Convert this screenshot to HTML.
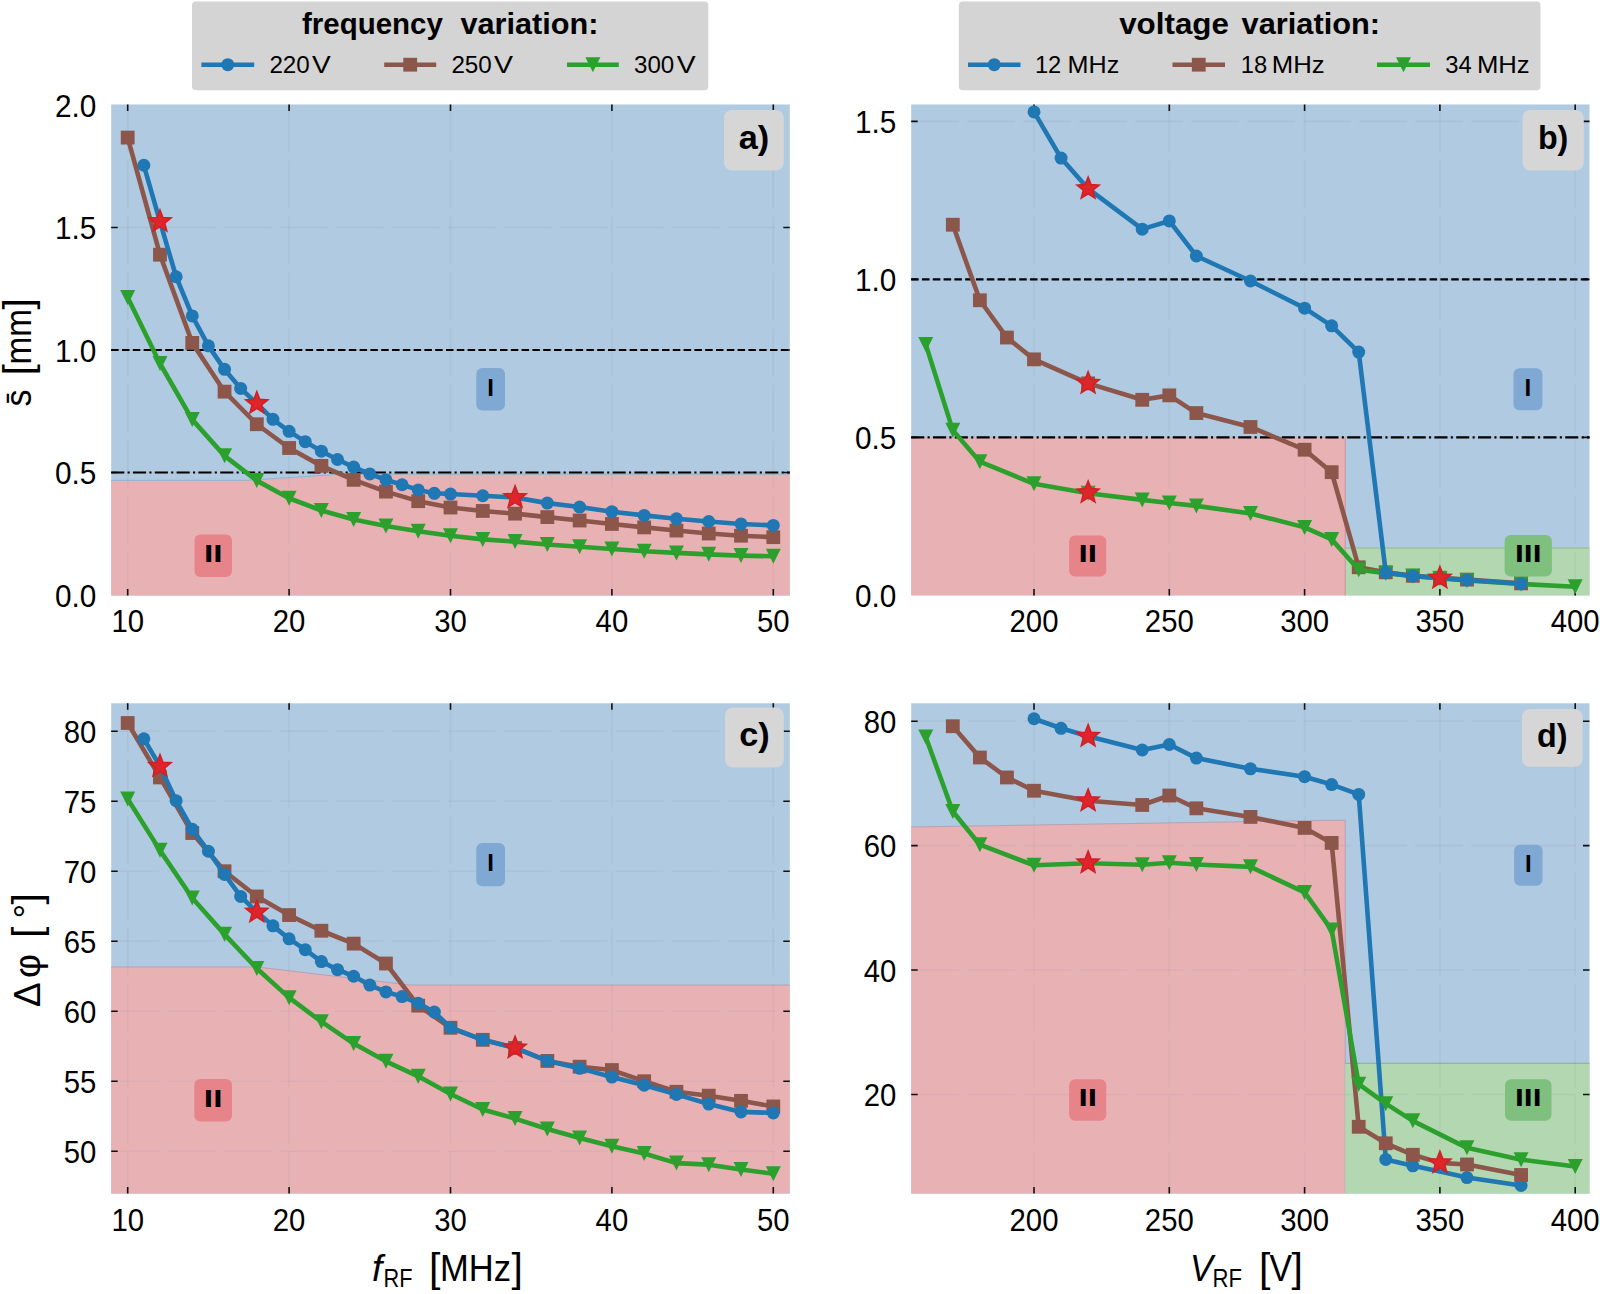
<!DOCTYPE html>
<html lang="en"><head><meta charset="utf-8"><title>Figure</title>
<style>html,body{margin:0;padding:0;background:#fff}svg{display:block}</style></head>
<body>
<svg width="1600" height="1294" viewBox="0 0 1600 1294" font-family='"Liberation Sans", sans-serif' fill="#000">
<rect width="1600" height="1294" fill="#fff"/>
<rect x="111.2" y="104.5" width="678.6" height="491.1" fill="#afcae1"/>
<polygon points="111.2,595.6 111.2,480.34 247.14,480.34 340.75,474.22 789.8,474.22 789.8,595.6" fill="#e8b2b5"/>
<polyline points="111.2,480.34 247.14,480.34 340.75,474.22 789.8,474.22" fill="none" stroke="#8fb3d3" stroke-width="1"/>
<g stroke="#808890" stroke-opacity="0.11" stroke-width="1.6" stroke-dasharray="48 8" fill="none"><path d="M127.7 104.5V595.6"/><path d="M289.1 104.5V595.6"/><path d="M450.5 104.5V595.6"/><path d="M611.9 104.5V595.6"/><path d="M773.3 104.5V595.6"/><path d="M111.2 472.5H789.8"/><path d="M111.2 350H789.8"/><path d="M111.2 227.5H789.8"/></g>
<g stroke="#111" stroke-width="1.6" fill="none"><path d="M127.7 595.6v-6.5M127.7 104.5v6.5"/><path d="M289.1 595.6v-6.5M289.1 104.5v6.5"/><path d="M450.5 595.6v-6.5M450.5 104.5v6.5"/><path d="M611.9 595.6v-6.5M611.9 104.5v6.5"/><path d="M773.3 595.6v-6.5M773.3 104.5v6.5"/><path d="M111.2 472.5h6.5M789.8 472.5h-6.5"/><path d="M111.2 350h6.5M789.8 350h-6.5"/><path d="M111.2 227.5h6.5M789.8 227.5h-6.5"/></g>
<path d="M111.2 350H789.8" stroke="#000" stroke-width="2.1" stroke-dasharray="7.5 3.3" fill="none"/>
<path d="M111.2 472.5H789.8" stroke="#000" stroke-width="2.1" stroke-dasharray="13.1 3.3 2.1 3.3" fill="none"/>
<polyline points="127.7,137.58 159.98,254.69 192.26,342.89 224.54,391.65 256.82,424.24 289.1,448 321.38,465.88 353.66,479.85 385.94,491.61 418.22,501.16 450.5,507.54 482.78,510.96 515.06,513.66 547.34,517.09 579.62,520.52 611.9,523.95 644.18,527.38 676.46,530.57 708.74,533.5 741.02,535.71 773.3,537.18" fill="none" stroke="#8c564b" stroke-width="4.6" stroke-linejoin="round" stroke-linecap="butt"/>
<g fill="#8c564b"><rect x="120.8" y="130.68" width="13.8" height="13.8"/><rect x="153.08" y="247.79" width="13.8" height="13.8"/><rect x="185.36" y="336" width="13.8" height="13.8"/><rect x="217.64" y="384.75" width="13.8" height="13.8"/><rect x="249.92" y="417.34" width="13.8" height="13.8"/><rect x="282.2" y="441.1" width="13.8" height="13.8"/><rect x="314.48" y="458.99" width="13.8" height="13.8"/><rect x="346.76" y="472.95" width="13.8" height="13.8"/><rect x="379.04" y="484.71" width="13.8" height="13.8"/><rect x="411.32" y="494.26" width="13.8" height="13.8"/><rect x="443.6" y="500.64" width="13.8" height="13.8"/><rect x="475.88" y="504.06" width="13.8" height="13.8"/><rect x="508.16" y="506.76" width="13.8" height="13.8"/><rect x="540.44" y="510.19" width="13.8" height="13.8"/><rect x="572.72" y="513.62" width="13.8" height="13.8"/><rect x="605" y="517.05" width="13.8" height="13.8"/><rect x="637.28" y="520.48" width="13.8" height="13.8"/><rect x="669.56" y="523.67" width="13.8" height="13.8"/><rect x="701.84" y="526.61" width="13.8" height="13.8"/><rect x="734.12" y="528.81" width="13.8" height="13.8"/><rect x="766.4" y="530.28" width="13.8" height="13.8"/></g>
<polyline points="127.7,297.6 159.98,363.5 192.26,419.61 224.54,455.87 256.82,480.62 289.1,498.25 321.38,510.5 353.66,519.57 385.94,525.94 418.22,531.33 450.5,535.74 482.78,539.41 515.06,541.62 547.34,544.56 579.62,546.76 611.9,548.97 644.18,551.17 676.46,552.89 708.74,554.36 741.02,555.59 773.3,556.32" fill="none" stroke="#2ca02c" stroke-width="4.6" stroke-linejoin="round" stroke-linecap="butt"/>
<g fill="#2ca02c"><polygon points="120.2,290.1 135.2,290.1 127.7,305.1"/><polygon points="152.48,356 167.48,356 159.98,371"/><polygon points="184.76,412.11 199.76,412.11 192.26,427.11"/><polygon points="217.04,448.37 232.04,448.37 224.54,463.37"/><polygon points="249.32,473.12 264.32,473.12 256.82,488.12"/><polygon points="281.6,490.75 296.6,490.75 289.1,505.75"/><polygon points="313.88,503 328.88,503 321.38,518"/><polygon points="346.16,512.07 361.16,512.07 353.66,527.07"/><polygon points="378.44,518.44 393.44,518.44 385.94,533.44"/><polygon points="410.72,523.83 425.72,523.83 418.22,538.83"/><polygon points="443,528.24 458,528.24 450.5,543.24"/><polygon points="475.28,531.91 490.28,531.91 482.78,546.91"/><polygon points="507.56,534.12 522.56,534.12 515.06,549.12"/><polygon points="539.84,537.06 554.84,537.06 547.34,552.06"/><polygon points="572.12,539.26 587.12,539.26 579.62,554.26"/><polygon points="604.4,541.47 619.4,541.47 611.9,556.47"/><polygon points="636.68,543.67 651.68,543.67 644.18,558.67"/><polygon points="668.96,545.39 683.96,545.39 676.46,560.39"/><polygon points="701.24,546.86 716.24,546.86 708.74,561.86"/><polygon points="733.52,548.09 748.52,548.09 741.02,563.09"/><polygon points="765.8,548.82 780.8,548.82 773.3,563.82"/></g>
<polyline points="143.84,165.27 159.98,221.62 176.12,276.75 192.26,315.94 208.4,345.84 224.54,369.36 240.68,388.47 256.82,403.41 272.96,419.34 289.1,431.34 305.24,441.63 321.38,451.19 337.52,459.51 353.66,467.11 369.8,473.97 385.94,479.85 402.08,484.75 418.22,489.89 434.36,493.32 450.5,494.06 482.78,495.77 515.06,497.49 547.34,503.12 579.62,507.05 611.9,511.7 644.18,515.38 676.46,518.81 708.74,521.5 741.02,523.95 773.3,525.42" fill="none" stroke="#1f77b4" stroke-width="4.6" stroke-linejoin="round" stroke-linecap="butt"/>
<g fill="#1f77b4"><circle cx="143.84" cy="165.27" r="6.5"/><circle cx="176.12" cy="276.75" r="6.5"/><circle cx="192.26" cy="315.94" r="6.5"/><circle cx="208.4" cy="345.84" r="6.5"/><circle cx="224.54" cy="369.36" r="6.5"/><circle cx="240.68" cy="388.47" r="6.5"/><circle cx="272.96" cy="419.34" r="6.5"/><circle cx="289.1" cy="431.34" r="6.5"/><circle cx="305.24" cy="441.63" r="6.5"/><circle cx="321.38" cy="451.19" r="6.5"/><circle cx="337.52" cy="459.51" r="6.5"/><circle cx="353.66" cy="467.11" r="6.5"/><circle cx="369.8" cy="473.97" r="6.5"/><circle cx="385.94" cy="479.85" r="6.5"/><circle cx="402.08" cy="484.75" r="6.5"/><circle cx="418.22" cy="489.89" r="6.5"/><circle cx="434.36" cy="493.32" r="6.5"/><circle cx="450.5" cy="494.06" r="6.5"/><circle cx="482.78" cy="495.77" r="6.5"/><circle cx="547.34" cy="503.12" r="6.5"/><circle cx="579.62" cy="507.05" r="6.5"/><circle cx="611.9" cy="511.7" r="6.5"/><circle cx="644.18" cy="515.38" r="6.5"/><circle cx="676.46" cy="518.81" r="6.5"/><circle cx="708.74" cy="521.5" r="6.5"/><circle cx="741.02" cy="523.95" r="6.5"/><circle cx="773.3" cy="525.42" r="6.5"/></g>
<polygon points="159.98,210.02 162.92,217.57 171.01,218.04 164.74,223.17 166.8,231 159.98,226.62 153.16,231 155.22,223.17 148.95,218.04 157.04,217.57" fill="#e0252a" stroke="#cf2026" stroke-width="1.6" stroke-linejoin="miter"/>
<polygon points="256.82,391.81 259.76,399.36 267.85,399.83 261.58,404.96 263.64,412.79 256.82,408.41 250,412.79 252.06,404.96 245.79,399.83 253.88,399.36" fill="#e0252a" stroke="#cf2026" stroke-width="1.6" stroke-linejoin="miter"/>
<polygon points="515.06,485.89 518,493.44 526.09,493.91 519.82,499.04 521.88,506.87 515.06,502.49 508.24,506.87 510.3,499.04 504.03,493.91 512.12,493.44" fill="#e0252a" stroke="#cf2026" stroke-width="1.6" stroke-linejoin="miter"/>
<rect x="724" y="110" width="59.8" height="60.6" rx="8" fill="#d6d6d6"/>
<text x="753.9" y="149.18" text-anchor="middle" font-size="33" font-weight="bold" textLength="30.5" lengthAdjust="spacingAndGlyphs">a)</text>
<rect x="476.3" y="368" width="28.7" height="42.5" rx="6" fill="#7fa8d2"/>
<text x="490.65" y="395.69" text-anchor="middle" font-size="24" font-weight="bold">I</text>
<rect x="194.5" y="534.5" width="37.5" height="42.5" rx="6" fill="#e7848a"/>
<text x="213.25" y="562.19" text-anchor="middle" font-size="24" font-weight="bold" textLength="18.6" lengthAdjust="spacingAndGlyphs">II</text>
<text x="111.4" y="632" font-size="31" textLength="32.6" lengthAdjust="spacingAndGlyphs">10</text>
<text x="272.8" y="632" font-size="31" textLength="32.6" lengthAdjust="spacingAndGlyphs">20</text>
<text x="434.2" y="632" font-size="31" textLength="32.6" lengthAdjust="spacingAndGlyphs">30</text>
<text x="595.6" y="632" font-size="31" textLength="32.6" lengthAdjust="spacingAndGlyphs">40</text>
<text x="757" y="632" font-size="31" textLength="32.6" lengthAdjust="spacingAndGlyphs">50</text>
<text x="54.9" y="606.8" font-size="31" textLength="41.4" lengthAdjust="spacingAndGlyphs">0.0</text>
<text x="54.9" y="484.3" font-size="31" textLength="41.4" lengthAdjust="spacingAndGlyphs">0.5</text>
<text x="54.9" y="361.8" font-size="31" textLength="41.4" lengthAdjust="spacingAndGlyphs">1.0</text>
<text x="54.9" y="239.3" font-size="31" textLength="41.4" lengthAdjust="spacingAndGlyphs">1.5</text>
<text x="54.9" y="116.8" font-size="31" textLength="41.4" lengthAdjust="spacingAndGlyphs">2.0</text>
<rect x="911.2" y="104.5" width="678.3" height="490.9" fill="#afcae1"/>
<rect x="911.2" y="437.4" width="433.99" height="158" fill="#e8b2b5"/>
<rect x="1345.19" y="548" width="244.31" height="47.4" fill="#b3d7b1"/>
<path d="M1345.19 437.4V595.4" stroke="#cf8f98" stroke-width="1" fill="none"/>
<path d="M1345.19 548H1589.5" stroke="#8dbb8e" stroke-width="1.2" fill="none"/>
<g stroke="#808890" stroke-opacity="0.11" stroke-width="1.6" stroke-dasharray="48 8" fill="none"><path d="M1034 104.5V595.4"/><path d="M1169.3 104.5V595.4"/><path d="M1304.6 104.5V595.4"/><path d="M1439.9 104.5V595.4"/><path d="M1575.2 104.5V595.4"/><path d="M911.2 437.4H1589.5"/><path d="M911.2 279.4H1589.5"/><path d="M911.2 121.4H1589.5"/></g>
<g stroke="#111" stroke-width="1.6" fill="none"><path d="M1034 595.4v-6.5M1034 104.5v6.5"/><path d="M1169.3 595.4v-6.5M1169.3 104.5v6.5"/><path d="M1304.6 595.4v-6.5M1304.6 104.5v6.5"/><path d="M1439.9 595.4v-6.5M1439.9 104.5v6.5"/><path d="M1575.2 595.4v-6.5M1575.2 104.5v6.5"/><path d="M911.2 437.4h6.5M1589.5 437.4h-6.5"/><path d="M911.2 279.4h6.5M1589.5 279.4h-6.5"/><path d="M911.2 121.4h6.5M1589.5 121.4h-6.5"/></g>
<path d="M911.2 279.4H1589.5" stroke="#000" stroke-width="2.1" stroke-dasharray="7.5 3.3" fill="none"/>
<path d="M911.2 437.4H1589.5" stroke="#000" stroke-width="2.1" stroke-dasharray="13.1 3.3 2.1 3.3" fill="none"/>
<polyline points="952.82,224.73 979.88,300.26 1006.94,337.54 1034,359.35 1088.12,383.36 1142.24,399.8 1169.3,395.37 1196.36,413.07 1250.48,426.97 1304.6,449.72 1331.66,472.16 1358.72,567.28 1385.78,572.33 1412.84,575.81 1439.9,577.7 1466.96,579.6 1521.08,583.39" fill="none" stroke="#8c564b" stroke-width="4.6" stroke-linejoin="round" stroke-linecap="butt"/>
<g fill="#8c564b"><rect x="945.92" y="217.83" width="13.8" height="13.8"/><rect x="972.98" y="293.36" width="13.8" height="13.8"/><rect x="1000.04" y="330.64" width="13.8" height="13.8"/><rect x="1027.1" y="352.45" width="13.8" height="13.8"/><rect x="1081.22" y="376.46" width="13.8" height="13.8"/><rect x="1135.34" y="392.9" width="13.8" height="13.8"/><rect x="1162.4" y="388.47" width="13.8" height="13.8"/><rect x="1189.46" y="406.17" width="13.8" height="13.8"/><rect x="1243.58" y="420.07" width="13.8" height="13.8"/><rect x="1297.7" y="442.82" width="13.8" height="13.8"/><rect x="1324.76" y="465.26" width="13.8" height="13.8"/><rect x="1351.82" y="560.38" width="13.8" height="13.8"/><rect x="1378.88" y="565.43" width="13.8" height="13.8"/><rect x="1405.94" y="568.91" width="13.8" height="13.8"/><rect x="1433" y="570.8" width="13.8" height="13.8"/><rect x="1460.06" y="572.7" width="13.8" height="13.8"/><rect x="1514.18" y="576.49" width="13.8" height="13.8"/></g>
<polyline points="925.76,344.42 952.82,430.37 979.88,461.65 1034,483.77 1088.12,493.25 1142.24,499.89 1169.3,503.05 1196.36,505.89 1250.48,513.48 1304.6,527.38 1331.66,539.39 1358.72,569.72 1385.78,573.2 1412.84,576.04 1439.9,578.57 1466.96,580.47 1521.08,583.94 1575.2,586.79" fill="none" stroke="#2ca02c" stroke-width="4.6" stroke-linejoin="round" stroke-linecap="butt"/>
<g fill="#2ca02c"><polygon points="918.26,336.92 933.26,336.92 925.76,351.92"/><polygon points="945.32,422.87 960.32,422.87 952.82,437.87"/><polygon points="972.38,454.15 987.38,454.15 979.88,469.15"/><polygon points="1026.5,476.27 1041.5,476.27 1034,491.27"/><polygon points="1080.62,485.75 1095.62,485.75 1088.12,500.75"/><polygon points="1134.74,492.39 1149.74,492.39 1142.24,507.39"/><polygon points="1161.8,495.55 1176.8,495.55 1169.3,510.55"/><polygon points="1188.86,498.39 1203.86,498.39 1196.36,513.39"/><polygon points="1242.98,505.98 1257.98,505.98 1250.48,520.98"/><polygon points="1297.1,519.88 1312.1,519.88 1304.6,534.88"/><polygon points="1324.16,531.89 1339.16,531.89 1331.66,546.89"/><polygon points="1351.22,562.22 1366.22,562.22 1358.72,577.22"/><polygon points="1378.28,565.7 1393.28,565.7 1385.78,580.7"/><polygon points="1405.34,568.54 1420.34,568.54 1412.84,583.54"/><polygon points="1432.4,571.07 1447.4,571.07 1439.9,586.07"/><polygon points="1459.46,572.97 1474.46,572.97 1466.96,587.97"/><polygon points="1513.58,576.44 1528.58,576.44 1521.08,591.44"/><polygon points="1567.7,579.29 1582.7,579.29 1575.2,594.29"/></g>
<polyline points="1034,111.92 1061.06,158.06 1088.12,188.71 1142.24,229.16 1169.3,220.94 1196.36,256.02 1250.48,280.98 1304.6,308.16 1331.66,325.85 1358.72,352.08 1385.78,572.65 1412.84,576.12 1439.9,578.02 1466.96,579.92 1521.08,583.71" fill="none" stroke="#1f77b4" stroke-width="4.6" stroke-linejoin="round" stroke-linecap="butt"/>
<g fill="#1f77b4"><circle cx="1034" cy="111.92" r="6.5"/><circle cx="1061.06" cy="158.06" r="6.5"/><circle cx="1142.24" cy="229.16" r="6.5"/><circle cx="1169.3" cy="220.94" r="6.5"/><circle cx="1196.36" cy="256.02" r="6.5"/><circle cx="1250.48" cy="280.98" r="6.5"/><circle cx="1304.6" cy="308.16" r="6.5"/><circle cx="1331.66" cy="325.85" r="6.5"/><circle cx="1358.72" cy="352.08" r="6.5"/><circle cx="1385.78" cy="572.65" r="6.5"/><circle cx="1412.84" cy="576.12" r="6.5"/><circle cx="1466.96" cy="579.92" r="6.5"/><circle cx="1521.08" cy="583.71" r="6.5"/></g>
<polygon points="1088.12,177.11 1091.06,184.66 1099.15,185.12 1092.88,190.25 1094.94,198.09 1088.12,193.71 1081.3,198.09 1083.36,190.25 1077.09,185.12 1085.18,184.66" fill="#e0252a" stroke="#cf2026" stroke-width="1.6" stroke-linejoin="miter"/>
<polygon points="1088.12,371.76 1091.06,379.32 1099.15,379.78 1092.88,384.91 1094.94,392.75 1088.12,388.36 1081.3,392.75 1083.36,384.91 1077.09,379.78 1085.18,379.32" fill="#e0252a" stroke="#cf2026" stroke-width="1.6" stroke-linejoin="miter"/>
<polygon points="1088.12,481.1 1091.06,488.65 1099.15,489.12 1092.88,494.25 1094.94,502.08 1088.12,497.7 1081.3,502.08 1083.36,494.25 1077.09,489.12 1085.18,488.65" fill="#e0252a" stroke="#cf2026" stroke-width="1.6" stroke-linejoin="miter"/>
<polygon points="1439.9,566.42 1442.84,573.97 1450.93,574.44 1444.66,579.57 1446.72,587.4 1439.9,583.02 1433.08,587.4 1435.14,579.57 1428.87,574.44 1436.96,573.97" fill="#e0252a" stroke="#cf2026" stroke-width="1.6" stroke-linejoin="miter"/>
<rect x="1522.5" y="110" width="61.3" height="60.6" rx="8" fill="#d6d6d6"/>
<text x="1553.15" y="149.18" text-anchor="middle" font-size="33" font-weight="bold" textLength="30.5" lengthAdjust="spacingAndGlyphs">b)</text>
<rect x="1513.5" y="368.2" width="28.9" height="42.1" rx="6" fill="#7fa8d2"/>
<text x="1527.95" y="395.69" text-anchor="middle" font-size="24" font-weight="bold">I</text>
<rect x="1069.1" y="535.5" width="37.2" height="40.9" rx="6" fill="#e7848a"/>
<text x="1087.7" y="562.39" text-anchor="middle" font-size="24" font-weight="bold" textLength="18.6" lengthAdjust="spacingAndGlyphs">II</text>
<rect x="1504.6" y="535.1" width="47.3" height="41.5" rx="6" fill="#7fc07f"/>
<text x="1528.25" y="562.29" text-anchor="middle" font-size="24" font-weight="bold" textLength="26.5" lengthAdjust="spacingAndGlyphs">III</text>
<text x="1009.55" y="632" font-size="31" textLength="48.9" lengthAdjust="spacingAndGlyphs">200</text>
<text x="1144.85" y="632" font-size="31" textLength="48.9" lengthAdjust="spacingAndGlyphs">250</text>
<text x="1280.15" y="632" font-size="31" textLength="48.9" lengthAdjust="spacingAndGlyphs">300</text>
<text x="1415.45" y="632" font-size="31" textLength="48.9" lengthAdjust="spacingAndGlyphs">350</text>
<text x="1550.75" y="632" font-size="31" textLength="48.9" lengthAdjust="spacingAndGlyphs">400</text>
<text x="854.9" y="607.2" font-size="31" textLength="41.4" lengthAdjust="spacingAndGlyphs">0.0</text>
<text x="854.9" y="449.2" font-size="31" textLength="41.4" lengthAdjust="spacingAndGlyphs">0.5</text>
<text x="854.9" y="291.2" font-size="31" textLength="41.4" lengthAdjust="spacingAndGlyphs">1.0</text>
<text x="854.9" y="133.2" font-size="31" textLength="41.4" lengthAdjust="spacingAndGlyphs">1.5</text>
<rect x="111.2" y="703.3" width="678.6" height="490.3" fill="#afcae1"/>
<polygon points="111.2,1193.6 111.2,967.01 256.82,967.01 410.15,985.07 789.8,985.07 789.8,1193.6" fill="#e8b2b5"/>
<polyline points="111.2,967.01 256.82,967.01 410.15,985.07 789.8,985.07" fill="none" stroke="#b9a0b4" stroke-width="1"/>
<g stroke="#808890" stroke-opacity="0.11" stroke-width="1.6" stroke-dasharray="48 8" fill="none"><path d="M127.7 703.3V1193.6"/><path d="M289.1 703.3V1193.6"/><path d="M450.5 703.3V1193.6"/><path d="M611.9 703.3V1193.6"/><path d="M773.3 703.3V1193.6"/><path d="M111.2 1151.25H789.8"/><path d="M111.2 1081.25H789.8"/><path d="M111.2 1011.25H789.8"/><path d="M111.2 941.25H789.8"/><path d="M111.2 871.25H789.8"/><path d="M111.2 801.25H789.8"/><path d="M111.2 731.25H789.8"/></g>
<g stroke="#111" stroke-width="1.6" fill="none"><path d="M127.7 1193.6v-6.5M127.7 703.3v6.5"/><path d="M289.1 1193.6v-6.5M289.1 703.3v6.5"/><path d="M450.5 1193.6v-6.5M450.5 703.3v6.5"/><path d="M611.9 1193.6v-6.5M611.9 703.3v6.5"/><path d="M773.3 1193.6v-6.5M773.3 703.3v6.5"/><path d="M111.2 1151.25h6.5M789.8 1151.25h-6.5"/><path d="M111.2 1081.25h6.5M789.8 1081.25h-6.5"/><path d="M111.2 1011.25h6.5M789.8 1011.25h-6.5"/><path d="M111.2 941.25h6.5M789.8 941.25h-6.5"/><path d="M111.2 871.25h6.5M789.8 871.25h-6.5"/><path d="M111.2 801.25h6.5M789.8 801.25h-6.5"/><path d="M111.2 731.25h6.5M789.8 731.25h-6.5"/></g>
<polyline points="127.7,722.99 159.98,777.45 192.26,833.03 224.54,871.25 256.82,896.45 289.1,915.07 321.38,930.75 353.66,943.63 385.94,963.51 418.22,1005.65 450.5,1027.77 482.78,1039.81 515.06,1047.93 547.34,1060.95 579.62,1066.69 611.9,1070.05 644.18,1081.25 676.46,1091.75 708.74,1095.67 741.02,1100.85 773.3,1106.45" fill="none" stroke="#8c564b" stroke-width="4.6" stroke-linejoin="round" stroke-linecap="butt"/>
<g fill="#8c564b"><rect x="120.8" y="716.09" width="13.8" height="13.8"/><rect x="153.08" y="770.55" width="13.8" height="13.8"/><rect x="185.36" y="826.13" width="13.8" height="13.8"/><rect x="217.64" y="864.35" width="13.8" height="13.8"/><rect x="249.92" y="889.55" width="13.8" height="13.8"/><rect x="282.2" y="908.17" width="13.8" height="13.8"/><rect x="314.48" y="923.85" width="13.8" height="13.8"/><rect x="346.76" y="936.73" width="13.8" height="13.8"/><rect x="379.04" y="956.61" width="13.8" height="13.8"/><rect x="411.32" y="998.75" width="13.8" height="13.8"/><rect x="443.6" y="1020.87" width="13.8" height="13.8"/><rect x="475.88" y="1032.91" width="13.8" height="13.8"/><rect x="508.16" y="1041.03" width="13.8" height="13.8"/><rect x="540.44" y="1054.05" width="13.8" height="13.8"/><rect x="572.72" y="1059.79" width="13.8" height="13.8"/><rect x="605" y="1063.15" width="13.8" height="13.8"/><rect x="637.28" y="1074.35" width="13.8" height="13.8"/><rect x="669.56" y="1084.85" width="13.8" height="13.8"/><rect x="701.84" y="1088.77" width="13.8" height="13.8"/><rect x="734.12" y="1093.95" width="13.8" height="13.8"/><rect x="766.4" y="1099.55" width="13.8" height="13.8"/></g>
<polyline points="127.7,798.97 159.98,850.35 192.26,897.95 224.54,934.35 256.82,968.51 289.1,997.63 321.38,1021.71 353.66,1043.55 385.94,1061.33 418.22,1076.31 450.5,1093.95 482.78,1109.49 515.06,1118.59 547.34,1128.95 579.62,1138.05 611.9,1146.17 644.18,1153.45 676.46,1163.11 708.74,1164.65 741.02,1169.55 773.3,1173.75" fill="none" stroke="#2ca02c" stroke-width="4.6" stroke-linejoin="round" stroke-linecap="butt"/>
<g fill="#2ca02c"><polygon points="120.2,791.47 135.2,791.47 127.7,806.47"/><polygon points="152.48,842.85 167.48,842.85 159.98,857.85"/><polygon points="184.76,890.45 199.76,890.45 192.26,905.45"/><polygon points="217.04,926.85 232.04,926.85 224.54,941.85"/><polygon points="249.32,961.01 264.32,961.01 256.82,976.01"/><polygon points="281.6,990.13 296.6,990.13 289.1,1005.13"/><polygon points="313.88,1014.21 328.88,1014.21 321.38,1029.21"/><polygon points="346.16,1036.05 361.16,1036.05 353.66,1051.05"/><polygon points="378.44,1053.83 393.44,1053.83 385.94,1068.83"/><polygon points="410.72,1068.81 425.72,1068.81 418.22,1083.81"/><polygon points="443,1086.45 458,1086.45 450.5,1101.45"/><polygon points="475.28,1101.99 490.28,1101.99 482.78,1116.99"/><polygon points="507.56,1111.09 522.56,1111.09 515.06,1126.09"/><polygon points="539.84,1121.45 554.84,1121.45 547.34,1136.45"/><polygon points="572.12,1130.55 587.12,1130.55 579.62,1145.55"/><polygon points="604.4,1138.67 619.4,1138.67 611.9,1153.67"/><polygon points="636.68,1145.95 651.68,1145.95 644.18,1160.95"/><polygon points="668.96,1155.61 683.96,1155.61 676.46,1170.61"/><polygon points="701.24,1157.15 716.24,1157.15 708.74,1172.15"/><polygon points="733.52,1162.05 748.52,1162.05 741.02,1177.05"/><polygon points="765.8,1166.25 780.8,1166.25 773.3,1181.25"/></g>
<polyline points="143.84,738.81 159.98,766.25 176.12,800.69 192.26,829.25 208.4,851.23 224.54,874.47 240.68,896.45 256.82,911.99 272.96,925.85 289.1,938.87 305.24,949.65 321.38,961.55 337.52,969.67 353.66,976.25 369.8,985.07 385.94,991.93 402.08,996.55 418.22,1003.27 434.36,1012.09 450.5,1027.77 482.78,1039.81 515.06,1047.93 547.34,1060.95 579.62,1068.37 611.9,1077.05 644.18,1085.17 676.46,1094.41 708.74,1104.07 741.02,1111.91 773.3,1112.89" fill="none" stroke="#1f77b4" stroke-width="4.6" stroke-linejoin="round" stroke-linecap="butt"/>
<g fill="#1f77b4"><circle cx="143.84" cy="738.81" r="6.5"/><circle cx="176.12" cy="800.69" r="6.5"/><circle cx="192.26" cy="829.25" r="6.5"/><circle cx="208.4" cy="851.23" r="6.5"/><circle cx="224.54" cy="874.47" r="6.5"/><circle cx="240.68" cy="896.45" r="6.5"/><circle cx="272.96" cy="925.85" r="6.5"/><circle cx="289.1" cy="938.87" r="6.5"/><circle cx="305.24" cy="949.65" r="6.5"/><circle cx="321.38" cy="961.55" r="6.5"/><circle cx="337.52" cy="969.67" r="6.5"/><circle cx="353.66" cy="976.25" r="6.5"/><circle cx="369.8" cy="985.07" r="6.5"/><circle cx="385.94" cy="991.93" r="6.5"/><circle cx="402.08" cy="996.55" r="6.5"/><circle cx="418.22" cy="1003.27" r="6.5"/><circle cx="434.36" cy="1012.09" r="6.5"/><circle cx="450.5" cy="1027.77" r="6.5"/><circle cx="482.78" cy="1039.81" r="6.5"/><circle cx="547.34" cy="1060.95" r="6.5"/><circle cx="579.62" cy="1068.37" r="6.5"/><circle cx="611.9" cy="1077.05" r="6.5"/><circle cx="644.18" cy="1085.17" r="6.5"/><circle cx="676.46" cy="1094.41" r="6.5"/><circle cx="708.74" cy="1104.07" r="6.5"/><circle cx="741.02" cy="1111.91" r="6.5"/><circle cx="773.3" cy="1112.89" r="6.5"/></g>
<polygon points="159.98,754.65 162.92,762.2 171.01,762.67 164.74,767.8 166.8,775.63 159.98,771.25 153.16,775.63 155.22,767.8 148.95,762.67 157.04,762.2" fill="#e0252a" stroke="#cf2026" stroke-width="1.6" stroke-linejoin="miter"/>
<polygon points="256.82,900.39 259.76,907.94 267.85,908.41 261.58,913.54 263.64,921.37 256.82,916.99 250,921.37 252.06,913.54 245.79,908.41 253.88,907.94" fill="#e0252a" stroke="#cf2026" stroke-width="1.6" stroke-linejoin="miter"/>
<polygon points="515.06,1036.33 518,1043.88 526.09,1044.35 519.82,1049.48 521.88,1057.31 515.06,1052.93 508.24,1057.31 510.3,1049.48 504.03,1044.35 512.12,1043.88" fill="#e0252a" stroke="#cf2026" stroke-width="1.6" stroke-linejoin="miter"/>
<rect x="725" y="707.5" width="58.8" height="60" rx="8" fill="#d6d6d6"/>
<text x="754.4" y="746.38" text-anchor="middle" font-size="33" font-weight="bold" textLength="30.5" lengthAdjust="spacingAndGlyphs">c)</text>
<rect x="476.3" y="843" width="28.7" height="43.2" rx="6" fill="#7fa8d2"/>
<text x="490.65" y="871.04" text-anchor="middle" font-size="24" font-weight="bold">I</text>
<rect x="194.3" y="1079" width="37.7" height="42.4" rx="6" fill="#e7848a"/>
<text x="213.15" y="1106.64" text-anchor="middle" font-size="24" font-weight="bold" textLength="18.6" lengthAdjust="spacingAndGlyphs">II</text>
<text x="111.4" y="1230.6" font-size="31" textLength="32.6" lengthAdjust="spacingAndGlyphs">10</text>
<text x="272.8" y="1230.6" font-size="31" textLength="32.6" lengthAdjust="spacingAndGlyphs">20</text>
<text x="434.2" y="1230.6" font-size="31" textLength="32.6" lengthAdjust="spacingAndGlyphs">30</text>
<text x="595.6" y="1230.6" font-size="31" textLength="32.6" lengthAdjust="spacingAndGlyphs">40</text>
<text x="757" y="1230.6" font-size="31" textLength="32.6" lengthAdjust="spacingAndGlyphs">50</text>
<text x="63.7" y="1163.05" font-size="31" textLength="32.6" lengthAdjust="spacingAndGlyphs">50</text>
<text x="63.7" y="1093.05" font-size="31" textLength="32.6" lengthAdjust="spacingAndGlyphs">55</text>
<text x="63.7" y="1023.05" font-size="31" textLength="32.6" lengthAdjust="spacingAndGlyphs">60</text>
<text x="63.7" y="953.05" font-size="31" textLength="32.6" lengthAdjust="spacingAndGlyphs">65</text>
<text x="63.7" y="883.05" font-size="31" textLength="32.6" lengthAdjust="spacingAndGlyphs">70</text>
<text x="63.7" y="813.05" font-size="31" textLength="32.6" lengthAdjust="spacingAndGlyphs">75</text>
<text x="63.7" y="743.05" font-size="31" textLength="32.6" lengthAdjust="spacingAndGlyphs">80</text>
<rect x="911.2" y="703.3" width="678.3" height="490.3" fill="#afcae1"/>
<polygon points="911.2,1193.6 911.2,826.99 1345.19,820.15 1345.19,1193.6" fill="#e8b2b5"/>
<polyline points="911.2,826.99 1345.19,820.15 1345.19,1193.6" fill="none" stroke="#b9a0b4" stroke-width="1"/>
<rect x="1345.19" y="1063.35" width="244.31" height="130.25" fill="#b3d7b1"/>
<path d="M1345.19 1063.35H1589.5" stroke="#8dbb8e" stroke-width="1.2" fill="none"/>
<g stroke="#808890" stroke-opacity="0.11" stroke-width="1.6" stroke-dasharray="48 8" fill="none"><path d="M1034 703.3V1193.6"/><path d="M1169.3 703.3V1193.6"/><path d="M1304.6 703.3V1193.6"/><path d="M1439.9 703.3V1193.6"/><path d="M1575.2 703.3V1193.6"/><path d="M911.2 1094.45H1589.5"/><path d="M911.2 970.05H1589.5"/><path d="M911.2 845.65H1589.5"/><path d="M911.2 721.25H1589.5"/></g>
<g stroke="#111" stroke-width="1.6" fill="none"><path d="M1034 1193.6v-6.5M1034 703.3v6.5"/><path d="M1169.3 1193.6v-6.5M1169.3 703.3v6.5"/><path d="M1304.6 1193.6v-6.5M1304.6 703.3v6.5"/><path d="M1439.9 1193.6v-6.5M1439.9 703.3v6.5"/><path d="M1575.2 1193.6v-6.5M1575.2 703.3v6.5"/><path d="M911.2 1094.45h6.5M1589.5 1094.45h-6.5"/><path d="M911.2 970.05h6.5M1589.5 970.05h-6.5"/><path d="M911.2 845.65h6.5M1589.5 845.65h-6.5"/><path d="M911.2 721.25h6.5M1589.5 721.25h-6.5"/></g>
<polyline points="1034,718.76 1061.06,728.28 1088.12,736.24 1142.24,749.99 1169.3,744.51 1196.36,758.07 1250.48,768.83 1304.6,776.67 1331.66,784.57 1358.72,794.4 1385.78,1159.45 1412.84,1165.86 1439.9,1171.58 1466.96,1177.55 1521.08,1185.45" fill="none" stroke="#1f77b4" stroke-width="4.6" stroke-linejoin="round" stroke-linecap="butt"/>
<g fill="#1f77b4"><circle cx="1034" cy="718.76" r="6.5"/><circle cx="1061.06" cy="728.28" r="6.5"/><circle cx="1142.24" cy="749.99" r="6.5"/><circle cx="1169.3" cy="744.51" r="6.5"/><circle cx="1196.36" cy="758.07" r="6.5"/><circle cx="1250.48" cy="768.83" r="6.5"/><circle cx="1304.6" cy="776.67" r="6.5"/><circle cx="1331.66" cy="784.57" r="6.5"/><circle cx="1358.72" cy="794.4" r="6.5"/><circle cx="1385.78" cy="1159.45" r="6.5"/><circle cx="1412.84" cy="1165.86" r="6.5"/><circle cx="1466.96" cy="1177.55" r="6.5"/><circle cx="1521.08" cy="1185.45" r="6.5"/></g>
<polyline points="952.82,726.23 979.88,757.51 1006.94,777.48 1034,790.73 1088.12,800.74 1142.24,804.97 1169.3,795.52 1196.36,808.33 1250.48,816.91 1304.6,827.92 1331.66,842.91 1358.72,1126.79 1385.78,1143.28 1412.84,1154.78 1439.9,1162.87 1466.96,1164.49 1521.08,1175" fill="none" stroke="#8c564b" stroke-width="4.6" stroke-linejoin="round" stroke-linecap="butt"/>
<g fill="#8c564b"><rect x="945.92" y="719.33" width="13.8" height="13.8"/><rect x="972.98" y="750.61" width="13.8" height="13.8"/><rect x="1000.04" y="770.58" width="13.8" height="13.8"/><rect x="1027.1" y="783.83" width="13.8" height="13.8"/><rect x="1135.34" y="798.07" width="13.8" height="13.8"/><rect x="1162.4" y="788.62" width="13.8" height="13.8"/><rect x="1189.46" y="801.43" width="13.8" height="13.8"/><rect x="1243.58" y="810.01" width="13.8" height="13.8"/><rect x="1297.7" y="821.02" width="13.8" height="13.8"/><rect x="1324.76" y="836.01" width="13.8" height="13.8"/><rect x="1351.82" y="1119.89" width="13.8" height="13.8"/><rect x="1378.88" y="1136.38" width="13.8" height="13.8"/><rect x="1405.94" y="1147.88" width="13.8" height="13.8"/><rect x="1460.06" y="1157.59" width="13.8" height="13.8"/><rect x="1514.18" y="1168.1" width="13.8" height="13.8"/></g>
<polyline points="925.76,737.06 952.82,811.51 979.88,844.72 1034,865.25 1088.12,863.26 1142.24,864.75 1169.3,862.7 1196.36,864.44 1250.48,866.87 1304.6,892.43 1331.66,929.88 1358.72,1084.13 1385.78,1103.66 1412.84,1120.83 1466.96,1147.82 1521.08,1159.64 1575.2,1166.42" fill="none" stroke="#2ca02c" stroke-width="4.6" stroke-linejoin="round" stroke-linecap="butt"/>
<g fill="#2ca02c"><polygon points="918.26,729.56 933.26,729.56 925.76,744.56"/><polygon points="945.32,804.01 960.32,804.01 952.82,819.01"/><polygon points="972.38,837.22 987.38,837.22 979.88,852.22"/><polygon points="1026.5,857.75 1041.5,857.75 1034,872.75"/><polygon points="1134.74,857.25 1149.74,857.25 1142.24,872.25"/><polygon points="1161.8,855.2 1176.8,855.2 1169.3,870.2"/><polygon points="1188.86,856.94 1203.86,856.94 1196.36,871.94"/><polygon points="1242.98,859.37 1257.98,859.37 1250.48,874.37"/><polygon points="1297.1,884.93 1312.1,884.93 1304.6,899.93"/><polygon points="1324.16,922.38 1339.16,922.38 1331.66,937.38"/><polygon points="1351.22,1076.63 1366.22,1076.63 1358.72,1091.63"/><polygon points="1378.28,1096.16 1393.28,1096.16 1385.78,1111.16"/><polygon points="1405.34,1113.33 1420.34,1113.33 1412.84,1128.33"/><polygon points="1459.46,1140.32 1474.46,1140.32 1466.96,1155.32"/><polygon points="1513.58,1152.14 1528.58,1152.14 1521.08,1167.14"/><polygon points="1567.7,1158.92 1582.7,1158.92 1575.2,1173.92"/></g>
<polygon points="1088.12,724.64 1091.06,732.2 1099.15,732.66 1092.88,737.79 1094.94,745.62 1088.12,741.24 1081.3,745.62 1083.36,737.79 1077.09,732.66 1085.18,732.2" fill="#e0252a" stroke="#cf2026" stroke-width="1.6" stroke-linejoin="miter"/>
<polygon points="1088.12,789.14 1091.06,796.7 1099.15,797.16 1092.88,802.29 1094.94,810.13 1088.12,805.74 1081.3,810.13 1083.36,802.29 1077.09,797.16 1085.18,796.7" fill="#e0252a" stroke="#cf2026" stroke-width="1.6" stroke-linejoin="miter"/>
<polygon points="1088.12,851.15 1091.06,858.71 1099.15,859.17 1092.88,864.3 1094.94,872.14 1088.12,867.75 1081.3,872.14 1083.36,864.3 1077.09,859.17 1085.18,858.71" fill="#e0252a" stroke="#cf2026" stroke-width="1.6" stroke-linejoin="miter"/>
<polygon points="1439.9,1151.27 1442.84,1158.82 1450.93,1159.29 1444.66,1164.42 1446.72,1172.25 1439.9,1167.87 1433.08,1172.25 1435.14,1164.42 1428.87,1159.29 1436.96,1158.82" fill="#e0252a" stroke="#cf2026" stroke-width="1.6" stroke-linejoin="miter"/>
<rect x="1522" y="708.9" width="60.7" height="57.9" rx="8" fill="#d6d6d6"/>
<text x="1552.35" y="746.73" text-anchor="middle" font-size="33" font-weight="bold" textLength="30.5" lengthAdjust="spacingAndGlyphs">d)</text>
<rect x="1514.1" y="844.8" width="28.4" height="41" rx="6" fill="#7fa8d2"/>
<text x="1528.3" y="871.74" text-anchor="middle" font-size="24" font-weight="bold">I</text>
<rect x="1069.1" y="1079.3" width="37.2" height="41.4" rx="6" fill="#e7848a"/>
<text x="1087.7" y="1106.44" text-anchor="middle" font-size="24" font-weight="bold" textLength="18.6" lengthAdjust="spacingAndGlyphs">II</text>
<rect x="1505" y="1079.3" width="46.5" height="41.4" rx="6" fill="#7fc07f"/>
<text x="1528.25" y="1106.44" text-anchor="middle" font-size="24" font-weight="bold" textLength="26.5" lengthAdjust="spacingAndGlyphs">III</text>
<text x="1009.55" y="1230.6" font-size="31" textLength="48.9" lengthAdjust="spacingAndGlyphs">200</text>
<text x="1144.85" y="1230.6" font-size="31" textLength="48.9" lengthAdjust="spacingAndGlyphs">250</text>
<text x="1280.15" y="1230.6" font-size="31" textLength="48.9" lengthAdjust="spacingAndGlyphs">300</text>
<text x="1415.45" y="1230.6" font-size="31" textLength="48.9" lengthAdjust="spacingAndGlyphs">350</text>
<text x="1550.75" y="1230.6" font-size="31" textLength="48.9" lengthAdjust="spacingAndGlyphs">400</text>
<text x="863.7" y="1106.25" font-size="31" textLength="32.6" lengthAdjust="spacingAndGlyphs">20</text>
<text x="863.7" y="981.85" font-size="31" textLength="32.6" lengthAdjust="spacingAndGlyphs">40</text>
<text x="863.7" y="857.45" font-size="31" textLength="32.6" lengthAdjust="spacingAndGlyphs">60</text>
<text x="863.7" y="733.05" font-size="31" textLength="32.6" lengthAdjust="spacingAndGlyphs">80</text>
<rect x="192" y="1.5" width="516.3" height="88.7" rx="4" fill="#d4d4d4"/>
<text y="34" font-size="30" font-weight="bold"><tspan x="302" textLength="140.9" lengthAdjust="spacingAndGlyphs">frequency</tspan><tspan x="460.4" textLength="138.1" lengthAdjust="spacingAndGlyphs">variation:</tspan></text>
<path d="M201.4 64.7H254.2" stroke="#1f77b4" stroke-width="4.4" fill="none"/>
<circle cx="227.8" cy="64.7" r="6.5" fill="#1f77b4"/>
<text y="73.2" font-size="24"><tspan x="269.4" textLength="40.4" lengthAdjust="spacingAndGlyphs">220</tspan><tspan> </tspan><tspan x="311.9" textLength="18.7" lengthAdjust="spacingAndGlyphs">V</tspan></text>
<path d="M384.2 64.7H436.2" stroke="#8c564b" stroke-width="4.4" fill="none"/>
<rect x="403.3" y="57.8" width="13.8" height="13.8" fill="#8c564b"/>
<text y="73.2" font-size="24"><tspan x="451.4" textLength="40.4" lengthAdjust="spacingAndGlyphs">250</tspan><tspan> </tspan><tspan x="493.9" textLength="19" lengthAdjust="spacingAndGlyphs">V</tspan></text>
<path d="M567 64.7H618.8" stroke="#2ca02c" stroke-width="4.4" fill="none"/>
<polygon points="585.4,57.2 600.4,57.2 592.9,72.2" fill="#2ca02c"/>
<text y="73.2" font-size="24"><tspan x="634" textLength="40.2" lengthAdjust="spacingAndGlyphs">300</tspan><tspan> </tspan><tspan x="676.7" textLength="18.9" lengthAdjust="spacingAndGlyphs">V</tspan></text>
<rect x="958.8" y="1.5" width="581.7" height="88.7" rx="4" fill="#d4d4d4"/>
<text y="34" font-size="30" font-weight="bold"><tspan x="1119.2" textLength="109.7" lengthAdjust="spacingAndGlyphs">voltage</tspan><tspan x="1241.6" textLength="138.4" lengthAdjust="spacingAndGlyphs">variation:</tspan></text>
<path d="M968 64.7H1020.5" stroke="#1f77b4" stroke-width="4.4" fill="none"/>
<circle cx="994.25" cy="64.7" r="6.5" fill="#1f77b4"/>
<text y="73.2" font-size="24"><tspan x="1034.9" textLength="26.4" lengthAdjust="spacingAndGlyphs">12</tspan><tspan> </tspan><tspan x="1067.6" textLength="51.7" lengthAdjust="spacingAndGlyphs">MHz</tspan></text>
<path d="M1172.5 64.7H1225" stroke="#8c564b" stroke-width="4.4" fill="none"/>
<rect x="1191.85" y="57.8" width="13.8" height="13.8" fill="#8c564b"/>
<text y="73.2" font-size="24"><tspan x="1240.7" textLength="26.4" lengthAdjust="spacingAndGlyphs">18</tspan><tspan> </tspan><tspan x="1271.8" textLength="52.9" lengthAdjust="spacingAndGlyphs">MHz</tspan></text>
<path d="M1377 64.7H1430" stroke="#2ca02c" stroke-width="4.4" fill="none"/>
<polygon points="1396,57.2 1411,57.2 1403.5,72.2" fill="#2ca02c"/>
<text y="73.2" font-size="24"><tspan x="1445.3" textLength="26.4" lengthAdjust="spacingAndGlyphs">34</tspan><tspan> </tspan><tspan x="1476.9" textLength="52.8" lengthAdjust="spacingAndGlyphs">MHz</tspan></text>
<text x="372" y="1280.5" font-size="37"><tspan font-style="italic">f</tspan><tspan font-size="25.5" dy="6.3" x="383.5" textLength="29" lengthAdjust="spacingAndGlyphs">RF</tspan><tspan dy="-4.8" x="429" font-size="41">[</tspan><tspan dy="-1.5" x="440" textLength="71" lengthAdjust="spacingAndGlyphs">MHz</tspan><tspan dy="1.5" x="511.5" font-size="41">]</tspan></text>
<text x="1190" y="1280.5" font-size="37"><tspan font-style="italic" textLength="23" lengthAdjust="spacingAndGlyphs">V</tspan><tspan font-size="25.5" dy="6.3" x="1212.5" textLength="29.5" lengthAdjust="spacingAndGlyphs">RF</tspan><tspan dy="-4.8" x="1259" font-size="41">[</tspan><tspan dy="-1.5" x="1269.5" textLength="22.5" lengthAdjust="spacingAndGlyphs">V</tspan><tspan dy="1.5" x="1291.5" font-size="41">]</tspan></text>
<text transform="translate(30.8 405.5) rotate(-90)" font-size="37"><tspan x="-1" textLength="17" lengthAdjust="spacingAndGlyphs">s̄</tspan><tspan x="30" dy="1.5" font-size="41">[</tspan><tspan x="41" dy="-1.5" textLength="55.5" lengthAdjust="spacingAndGlyphs">mm</tspan><tspan x="96" dy="1.5" font-size="41">]</tspan></text>
<text transform="translate(39.7 1006.5) rotate(-90)" font-size="37"><tspan x="-0.5">Δ</tspan><tspan x="28.5">φ</tspan><tspan x="68.5" dy="1.5" font-size="41">[</tspan><tspan x="88" dy="-1.5">°</tspan><tspan x="102" dy="1.5" font-size="41">]</tspan></text>
</svg>
</body></html>
